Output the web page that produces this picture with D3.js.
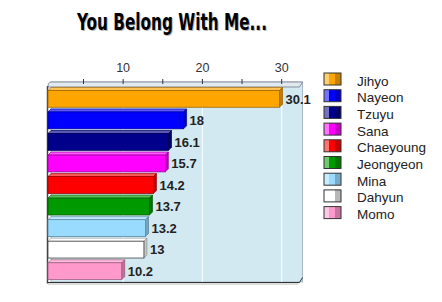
<!DOCTYPE html>
<html>
<head>
<meta charset="utf-8">
<script src="https://cdn.jsdelivr.net/npm/d3@7"></script>
<style>
  body { margin: 0; background: #fff; }
  svg { display: block; }
</style>
</head>
<body>
<div id="vis"></div>
<script>
// chart data
const members = ["Jihyo", "Nayeon", "Tzuyu", "Sana", "Chaeyoung", "Jeongyeon", "Mina", "Dahyun", "Momo"];
const scores = [30.1, 18, 16.1, 15.7, 14.2, 13.7, 13.2, 13, 10.2];
const colors = ["#ffa500", "#0000ff", "#00008b", "#ff00ff", "#ff0000", "#009900", "#99dbff", "#ffffff", "#ff99cc"];
const tickValues = [5, 10, 15, 20, 25, 30];
const tickLabels = [10, 20, 30];

const width = 442, height = 302;
const depth = {dx: 3, dy: -5};

const svg = d3.select("#vis").append("svg")
    .attr("width", width)
    .attr("height", height);

const defs = svg.append("defs");

// front plane scale, back wall is shifted by the depth offset
const x = d3.scaleLinear()
    .domain([0.9, 32.5])
    .range([48, 298.5]);
const y = d3.scaleBand()
    .domain(members)
    .range([87, 280])
    .paddingInner(0.08)
    .paddingOuter(0.02);

const plotLeft = x.range()[0], plotRight = x.range()[1];
const plotTop = 87, plotBottom = 282;

// title
const titleFont = "Impact, 'DejaVu Sans Condensed', 'Liberation Sans Narrow', sans-serif";
const title = svg.append("g");
title.append("text")
    .attr("x", 173).attr("y", 31)
    .attr("text-anchor", "middle")
    .attr("font-family", titleFont)
    .attr("font-weight", "bold")
    .attr("font-size", "23px")
    .attr("textLength", 190)
    .attr("lengthAdjust", "spacingAndGlyphs")
    .attr("fill", "#bbb")
    .text("You Belong With Me...");
title.append("text")
    .attr("x", 172).attr("y", 30)
    .attr("text-anchor", "middle")
    .attr("font-family", titleFont)
    .attr("font-weight", "bold")
    .attr("font-size", "23px")
    .attr("textLength", 190)
    .attr("lengthAdjust", "spacingAndGlyphs")
    .attr("fill", "#000")
    .text("You Belong With Me...");

// back wall
svg.append("rect")
    .attr("x", plotLeft + depth.dx)
    .attr("y", plotTop + depth.dy)
    .attr("width", plotRight - plotLeft + 1)
    .attr("height", plotBottom - plotTop - depth.dy)
    .attr("fill", "#d2e9f1")
    .attr("stroke", "#9ab")
    .attr("stroke-width", 0.8);

// grid lines on back wall
svg.selectAll(".grid")
    .data(tickLabels)
    .enter().append("line")
    .attr("x1", d => x(d) + depth.dx)
    .attr("x2", d => x(d) + depth.dx)
    .attr("y1", plotTop + depth.dy)
    .attr("y2", plotBottom)
    .attr("stroke", "#f4fbfd")
    .attr("stroke-width", 1.2);

// ceiling strip
svg.append("path")
    .attr("d", `M${plotLeft},${plotTop} Q${plotLeft},${plotTop + depth.dy} ${plotLeft + depth.dx},${plotTop + depth.dy}
                L${plotRight + depth.dx + 1},${plotTop + depth.dy} L${plotRight + 1},${plotTop} Z`)
    .attr("fill", "#dfe9ee")
    .attr("stroke", "#778")
    .attr("stroke-width", 0.8);

// left wall line and bottom edge
svg.append("line")
    .attr("x1", plotLeft - 0.5).attr("x2", plotLeft - 0.5)
    .attr("y1", plotTop - 1).attr("y2", plotBottom + 1.5)
    .attr("stroke", "#444").attr("stroke-width", 1.5);
svg.append("line")
    .attr("x1", plotLeft - 0.5).attr("x2", plotRight + 1)
    .attr("y1", plotBottom + 0.5).attr("y2", plotBottom + 0.5)
    .attr("stroke", "#333").attr("stroke-width", 1.2);
svg.append("line")
    .attr("x1", plotLeft).attr("x2", plotRight)
    .attr("y1", plotBottom + 2).attr("y2", plotBottom + 2)
    .attr("stroke", "#bbb").attr("stroke-width", 1);
svg.append("line")
    .attr("x1", plotRight + 1).attr("x2", plotRight + depth.dx + 1)
    .attr("y1", plotBottom + 0.5).attr("y2", plotBottom + depth.dy + 0.5)
    .attr("stroke", "#333").attr("stroke-width", 1);

// axis ticks along the top of the back wall
svg.selectAll(".tick")
    .data(tickValues)
    .enter().append("line")
    .attr("x1", d => x(d) + depth.dx)
    .attr("x2", d => x(d) + depth.dx)
    .attr("y1", plotTop + depth.dy - 3)
    .attr("y2", plotTop + depth.dy + 2)
    .attr("stroke", "#333")
    .attr("stroke-width", 1);
svg.selectAll(".tick-label")
    .data(tickLabels)
    .enter().append("text")
    .attr("x", d => x(d) + depth.dx)
    .attr("y", 72)
    .attr("text-anchor", "middle")
    .attr("font-family", "'Liberation Sans', Arial, sans-serif")
    .attr("font-size", "12.5px")
    .attr("fill", "#333")
    .text(d => d);

// bars
const data = members.map((m, i) => ({name: m, value: scores[i], color: colors[i]}));
const bars = svg.selectAll(".bar")
    .data(data)
    .enter().append("g")
    .attr("class", "bar");

const fd = 3; // bar depth
bars.append("path") // top face
    .attr("d", d => {
        const y0 = y(d.name) + fd, xe = x(d.value);
        return `M${plotLeft},${y0} L${plotLeft + fd},${y0 - fd} L${xe + fd},${y0 - fd} L${xe},${y0} Z`;
    })
    .attr("fill", d => d3.interpolateRgb(d.color, "#fff")(0.35))
    .attr("stroke", d => d3.color(d.color).darker(1.2))
    .attr("stroke-width", 0.7);
bars.append("path") // right face
    .attr("d", d => {
        const y0 = y(d.name) + fd, y1 = y(d.name) + y.bandwidth(), xe = x(d.value);
        return `M${xe},${y0} L${xe + fd},${y0 - fd} L${xe + fd},${y1 - fd} L${xe},${y1} Z`;
    })
    .attr("fill", d => d.color === "#ffffff" ? "#c8c8c8" : d3.color(d.color).darker(0.8))
    .attr("stroke", d => d3.color(d.color).darker(1.6))
    .attr("stroke-width", 0.7);
bars.append("rect") // front face
    .attr("x", plotLeft)
    .attr("y", d => y(d.name) + fd)
    .attr("width", d => x(d.value) - plotLeft)
    .attr("height", y.bandwidth() - fd)
    .attr("fill", d => d.color)
    .attr("stroke", d => d.color === "#ffffff" ? "#444" : d3.color(d.color).darker(1.3))
    .attr("stroke-width", 0.8);

bars.append("text")
    .attr("x", d => x(d.value) + fd + 3)
    .attr("y", d => y(d.name) + fd + (y.bandwidth() - fd) / 2)
    .attr("dy", "0.36em")
    .attr("font-family", "'Liberation Sans', Arial, sans-serif")
    .attr("font-weight", "bold")
    .attr("font-size", "13px")
    .attr("fill", "#222")
    .text(d => d.value);

// legend
const legend = svg.append("g")
    .attr("transform", "translate(324,73)");
const rowStep = 16.7;
members.forEach((m, i) => {
    const c = d3.color(colors[i]);
    const id = "lg" + i;
    const grad = defs.append("linearGradient").attr("id", id);
    const light = d3.interpolateRgb(colors[i], "#fff")(0.45);
    const dark = colors[i] === "#ffffff" ? "#b8b8b8" : c.darker(0.7).formatHex();
    grad.append("stop").attr("offset", "0%").attr("stop-color", light);
    grad.append("stop").attr("offset", "30%").attr("stop-color", light);
    grad.append("stop").attr("offset", "30%").attr("stop-color", colors[i]);
    grad.append("stop").attr("offset", "65%").attr("stop-color", colors[i]);
    grad.append("stop").attr("offset", "65%").attr("stop-color", dark);
    grad.append("stop").attr("offset", "100%").attr("stop-color", dark);
    legend.append("rect")
        .attr("x", 0)
        .attr("y", i * rowStep)
        .attr("width", 17)
        .attr("height", 12)
        .attr("fill", `url(#${id})`)
        .attr("stroke", "#333")
        .attr("stroke-width", 1);
    legend.append("text")
        .attr("x", 33)
        .attr("y", i * rowStep + 12.5)
        .attr("font-family", "'Liberation Sans', Arial, sans-serif")
        .attr("font-size", "13.5px")
        .attr("fill", "#222")
        .text(m);
});
</script>
</body>
</html>
